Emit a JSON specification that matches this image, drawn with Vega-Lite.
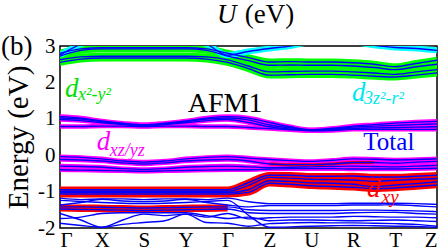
{
"$schema": "https://vega.github.io/schema/vega-lite/v6.json",
"width": 377, "height": 182,
"autosize": {"type": "none"},
"padding": {"left": 60, "top": 46, "right": 11, "bottom": 24},
"background": "white",
"config": {"view": {"stroke": "black", "strokeWidth": 1.5}, "font": "Liberation Serif"},
"data": {"values": [
{"b":"G1","k":0,"e":2.80},{"b":"G1","k":0.5,"e":2.92},{"b":"G1","k":1,"e":2.95},{"b":"G1","k":1.5,"e":2.95},{"b":"G1","k":2,"e":2.95},{"b":"G1","k":2.5,"e":2.95},{"b":"G1","k":3,"e":2.95},{"b":"G1","k":3.5,"e":2.92},{"b":"G1","k":4,"e":2.80},{"b":"G1","k":4.5,"e":2.68},{"b":"G1","k":5,"e":2.56},{"b":"G1","k":5.5,"e":2.57},{"b":"G1","k":6,"e":2.56},{"b":"G1","k":6.5,"e":2.56},{"b":"G1","k":7,"e":2.54},{"b":"G1","k":7.5,"e":2.50},{"b":"G1","k":8,"e":2.43},{"b":"G1","k":8.5,"e":2.52},{"b":"G1","k":9,"e":2.61},
{"b":"G2","k":0,"e":2.72},{"b":"G2","k":0.5,"e":2.88},{"b":"G2","k":1,"e":2.92},{"b":"G2","k":1.5,"e":2.92},{"b":"G2","k":2,"e":2.92},{"b":"G2","k":2.5,"e":2.92},{"b":"G2","k":3,"e":2.92},{"b":"G2","k":3.5,"e":2.88},{"b":"G2","k":4,"e":2.72},{"b":"G2","k":4.5,"e":2.60},{"b":"G2","k":5,"e":2.47},{"b":"G2","k":5.5,"e":2.48},{"b":"G2","k":6,"e":2.47},{"b":"G2","k":6.5,"e":2.47},{"b":"G2","k":7,"e":2.45},{"b":"G2","k":7.5,"e":2.41},{"b":"G2","k":8,"e":2.35},{"b":"G2","k":8.5,"e":2.43},{"b":"G2","k":9,"e":2.50},
{"b":"G3","k":0,"e":2.62},{"b":"G3","k":0.5,"e":2.70},{"b":"G3","k":1,"e":2.72},{"b":"G3","k":1.5,"e":2.72},{"b":"G3","k":2,"e":2.72},{"b":"G3","k":2.5,"e":2.72},{"b":"G3","k":3,"e":2.72},{"b":"G3","k":3.5,"e":2.70},{"b":"G3","k":4,"e":2.62},{"b":"G3","k":4.5,"e":2.45},{"b":"G3","k":5,"e":2.29},{"b":"G3","k":5.5,"e":2.30},{"b":"G3","k":6,"e":2.31},{"b":"G3","k":6.5,"e":2.31},{"b":"G3","k":7,"e":2.29},{"b":"G3","k":7.5,"e":2.26},{"b":"G3","k":8,"e":2.22},{"b":"G3","k":8.5,"e":2.29},{"b":"G3","k":9,"e":2.35},
{"b":"G4","k":0,"e":2.55},{"b":"G4","k":0.5,"e":2.64},{"b":"G4","k":1,"e":2.67},{"b":"G4","k":1.5,"e":2.67},{"b":"G4","k":2,"e":2.67},{"b":"G4","k":2.5,"e":2.67},{"b":"G4","k":3,"e":2.67},{"b":"G4","k":3.5,"e":2.64},{"b":"G4","k":4,"e":2.55},{"b":"G4","k":4.5,"e":2.38},{"b":"G4","k":5,"e":2.20},{"b":"G4","k":5.5,"e":2.21},{"b":"G4","k":6,"e":2.22},{"b":"G4","k":6.5,"e":2.22},{"b":"G4","k":7,"e":2.20},{"b":"G4","k":7.5,"e":2.17},{"b":"G4","k":8,"e":2.15},{"b":"G4","k":8.5,"e":2.20},{"b":"G4","k":9,"e":2.26},
{"b":"C1","k":0,"e":2.75},{"b":"C1","k":0.5,"e":3.05},{"b":"C1","k":1,"e":3.2},{"b":"C1","k":1.5,"e":3.2},{"b":"C1","k":2,"e":3.2},{"b":"C1","k":2.5,"e":3.2},{"b":"C1","k":3,"e":3.2},{"b":"C1","k":3.5,"e":3.05},{"b":"C1","k":4,"e":2.75},{"b":"C1","k":4.5,"e":2.85},{"b":"C1","k":5,"e":2.93},{"b":"C1","k":5.5,"e":3.0},{"b":"C1","k":6,"e":3.1},{"b":"C1","k":6.5,"e":3.1},{"b":"C1","k":7,"e":3.1},{"b":"C1","k":7.5,"e":3.02},{"b":"C1","k":8,"e":2.96},{"b":"C1","k":8.5,"e":2.93},{"b":"C1","k":9,"e":2.88},
{"b":"M1","k":0,"e":1.06},{"b":"M1","k":0.5,"e":1.02},{"b":"M1","k":1,"e":0.94},{"b":"M1","k":1.5,"e":0.88},{"b":"M1","k":2,"e":0.84},{"b":"M1","k":2.5,"e":0.88},{"b":"M1","k":3,"e":0.94},{"b":"M1","k":3.5,"e":1.02},{"b":"M1","k":4,"e":1.06},{"b":"M1","k":4.5,"e":1.02},{"b":"M1","k":5,"e":0.90},{"b":"M1","k":5.5,"e":0.78},{"b":"M1","k":6,"e":0.70},{"b":"M1","k":6.5,"e":0.74},{"b":"M1","k":7,"e":0.80},{"b":"M1","k":7.5,"e":0.84},{"b":"M1","k":8,"e":0.88},{"b":"M1","k":8.5,"e":0.91},{"b":"M1","k":9,"e":0.93},
{"b":"M2","k":0,"e":1.02},{"b":"M2","k":0.5,"e":0.99},{"b":"M2","k":1,"e":0.92},{"b":"M2","k":1.5,"e":0.86},{"b":"M2","k":2,"e":0.82},{"b":"M2","k":2.5,"e":0.86},{"b":"M2","k":3,"e":0.92},{"b":"M2","k":3.5,"e":0.99},{"b":"M2","k":4,"e":1.02},{"b":"M2","k":4.5,"e":0.97},{"b":"M2","k":5,"e":0.83},{"b":"M2","k":5.5,"e":0.75},{"b":"M2","k":6,"e":0.69},{"b":"M2","k":6.5,"e":0.72},{"b":"M2","k":7,"e":0.77},{"b":"M2","k":7.5,"e":0.80},{"b":"M2","k":8,"e":0.82},{"b":"M2","k":8.5,"e":0.84},{"b":"M2","k":9,"e":0.86},
{"b":"M3","k":0,"e":0.98},{"b":"M3","k":0.5,"e":0.95},{"b":"M3","k":1,"e":0.89},{"b":"M3","k":1.5,"e":0.84},{"b":"M3","k":2,"e":0.80},{"b":"M3","k":2.5,"e":0.84},{"b":"M3","k":3,"e":0.89},{"b":"M3","k":3.5,"e":0.95},{"b":"M3","k":4,"e":0.98},{"b":"M3","k":4.5,"e":0.90},{"b":"M3","k":5,"e":0.78},{"b":"M3","k":5.5,"e":0.72},{"b":"M3","k":6,"e":0.68},{"b":"M3","k":6.5,"e":0.70},{"b":"M3","k":7,"e":0.74},{"b":"M3","k":7.5,"e":0.75},{"b":"M3","k":8,"e":0.76},{"b":"M3","k":8.5,"e":0.77},{"b":"M3","k":9,"e":0.78},
{"b":"M4","k":0,"e":0.79},{"b":"M4","k":0.5,"e":0.79},{"b":"M4","k":1,"e":0.80},{"b":"M4","k":1.5,"e":0.80},{"b":"M4","k":2,"e":0.79},{"b":"M4","k":2.5,"e":0.80},{"b":"M4","k":3,"e":0.80},{"b":"M4","k":3.5,"e":0.79},{"b":"M4","k":4,"e":0.79},{"b":"M4","k":4.5,"e":0.76},{"b":"M4","k":5,"e":0.73},{"b":"M4","k":5.5,"e":0.70},{"b":"M4","k":6,"e":0.67},{"b":"M4","k":6.5,"e":0.68},{"b":"M4","k":7,"e":0.71},{"b":"M4","k":7.5,"e":0.71},{"b":"M4","k":8,"e":0.71},{"b":"M4","k":8.5,"e":0.71},{"b":"M4","k":9,"e":0.71},
{"b":"N1","k":0,"e":-0.04},{"b":"N1","k":0.5,"e":-0.06},{"b":"N1","k":1,"e":-0.10},{"b":"N1","k":1.5,"e":-0.16},{"b":"N1","k":2,"e":-0.19},{"b":"N1","k":2.5,"e":-0.16},{"b":"N1","k":3,"e":-0.10},{"b":"N1","k":3.5,"e":-0.06},{"b":"N1","k":4,"e":-0.04},{"b":"N1","k":4.5,"e":-0.08},{"b":"N1","k":5,"e":-0.12},{"b":"N1","k":5.5,"e":-0.15},{"b":"N1","k":6,"e":-0.17},{"b":"N1","k":6.5,"e":-0.14},{"b":"N1","k":7,"e":-0.10},{"b":"N1","k":7.5,"e":-0.11},{"b":"N1","k":8,"e":-0.13},{"b":"N1","k":8.5,"e":-0.12},{"b":"N1","k":9,"e":-0.10},
{"b":"N2","k":0,"e":-0.12},{"b":"N2","k":0.5,"e":-0.13},{"b":"N2","k":1,"e":-0.16},{"b":"N2","k":1.5,"e":-0.21},{"b":"N2","k":2,"e":-0.24},{"b":"N2","k":2.5,"e":-0.21},{"b":"N2","k":3,"e":-0.16},{"b":"N2","k":3.5,"e":-0.13},{"b":"N2","k":4,"e":-0.12},{"b":"N2","k":4.5,"e":-0.16},{"b":"N2","k":5,"e":-0.24},{"b":"N2","k":5.5,"e":-0.26},{"b":"N2","k":6,"e":-0.26},{"b":"N2","k":6.5,"e":-0.24},{"b":"N2","k":7,"e":-0.20},{"b":"N2","k":7.5,"e":-0.20},{"b":"N2","k":8,"e":-0.22},{"b":"N2","k":8.5,"e":-0.19},{"b":"N2","k":9,"e":-0.17},
{"b":"N3","k":0,"e":-0.30},{"b":"N3","k":0.5,"e":-0.31},{"b":"N3","k":1,"e":-0.33},{"b":"N3","k":1.5,"e":-0.37},{"b":"N3","k":2,"e":-0.39},{"b":"N3","k":2.5,"e":-0.37},{"b":"N3","k":3,"e":-0.33},{"b":"N3","k":3.5,"e":-0.31},{"b":"N3","k":4,"e":-0.30},{"b":"N3","k":4.5,"e":-0.32},{"b":"N3","k":5,"e":-0.34},{"b":"N3","k":5.5,"e":-0.33},{"b":"N3","k":6,"e":-0.32},{"b":"N3","k":6.5,"e":-0.31},{"b":"N3","k":7,"e":-0.30},{"b":"N3","k":7.5,"e":-0.31},{"b":"N3","k":8,"e":-0.32},{"b":"N3","k":8.5,"e":-0.30},{"b":"N3","k":9,"e":-0.28},
{"b":"N4","k":0,"e":-0.40},{"b":"N4","k":0.5,"e":-0.41},{"b":"N4","k":1,"e":-0.42},{"b":"N4","k":1.5,"e":-0.43},{"b":"N4","k":2,"e":-0.44},{"b":"N4","k":2.5,"e":-0.43},{"b":"N4","k":3,"e":-0.42},{"b":"N4","k":3.5,"e":-0.41},{"b":"N4","k":4,"e":-0.40},{"b":"N4","k":4.5,"e":-0.40},{"b":"N4","k":5,"e":-0.38},{"b":"N4","k":5.5,"e":-0.37},{"b":"N4","k":6,"e":-0.37},{"b":"N4","k":6.5,"e":-0.37},{"b":"N4","k":7,"e":-0.38},{"b":"N4","k":7.5,"e":-0.38},{"b":"N4","k":8,"e":-0.38},{"b":"N4","k":8.5,"e":-0.37},{"b":"N4","k":9,"e":-0.36},
{"b":"R1","k":0,"e":-0.95},{"b":"R1","k":0.5,"e":-0.95},{"b":"R1","k":1,"e":-0.95},{"b":"R1","k":1.5,"e":-0.95},{"b":"R1","k":2,"e":-0.95},{"b":"R1","k":2.5,"e":-0.95},{"b":"R1","k":3,"e":-0.95},{"b":"R1","k":3.5,"e":-0.95},{"b":"R1","k":4,"e":-0.95},{"b":"R1","k":4.5,"e":-0.75},{"b":"R1","k":5,"e":-0.55},{"b":"R1","k":5.5,"e":-0.55},{"b":"R1","k":6,"e":-0.58},{"b":"R1","k":6.5,"e":-0.58},{"b":"R1","k":7,"e":-0.57},{"b":"R1","k":7.5,"e":-0.60},{"b":"R1","k":8,"e":-0.60},{"b":"R1","k":8.5,"e":-0.58},{"b":"R1","k":9,"e":-0.55},
{"b":"R2","k":0,"e":-0.99},{"b":"R2","k":0.5,"e":-0.99},{"b":"R2","k":1,"e":-0.99},{"b":"R2","k":1.5,"e":-0.99},{"b":"R2","k":2,"e":-0.99},{"b":"R2","k":2.5,"e":-0.99},{"b":"R2","k":3,"e":-0.99},{"b":"R2","k":3.5,"e":-0.99},{"b":"R2","k":4,"e":-0.99},{"b":"R2","k":4.5,"e":-0.83},{"b":"R2","k":5,"e":-0.61},{"b":"R2","k":5.5,"e":-0.63},{"b":"R2","k":6,"e":-0.66},{"b":"R2","k":6.5,"e":-0.67},{"b":"R2","k":7,"e":-0.68},{"b":"R2","k":7.5,"e":-0.72},{"b":"R2","k":8,"e":-0.69},{"b":"R2","k":8.5,"e":-0.66},{"b":"R2","k":9,"e":-0.64},
{"b":"R3","k":0,"e":-1.03},{"b":"R3","k":0.5,"e":-1.03},{"b":"R3","k":1,"e":-1.03},{"b":"R3","k":1.5,"e":-1.03},{"b":"R3","k":2,"e":-1.03},{"b":"R3","k":2.5,"e":-1.03},{"b":"R3","k":3,"e":-1.03},{"b":"R3","k":3.5,"e":-1.03},{"b":"R3","k":4,"e":-1.03},{"b":"R3","k":4.5,"e":-0.95},{"b":"R3","k":5,"e":-0.70},{"b":"R3","k":5.5,"e":-0.72},{"b":"R3","k":6,"e":-0.76},{"b":"R3","k":6.5,"e":-0.77},{"b":"R3","k":7,"e":-0.80},{"b":"R3","k":7.5,"e":-0.86},{"b":"R3","k":8,"e":-0.82},{"b":"R3","k":8.5,"e":-0.78},{"b":"R3","k":9,"e":-0.73},
{"b":"R4","k":0,"e":-1.07},{"b":"R4","k":0.5,"e":-1.07},{"b":"R4","k":1,"e":-1.07},{"b":"R4","k":1.5,"e":-1.07},{"b":"R4","k":2,"e":-1.07},{"b":"R4","k":2.5,"e":-1.07},{"b":"R4","k":3,"e":-1.07},{"b":"R4","k":3.5,"e":-1.07},{"b":"R4","k":4,"e":-1.07},{"b":"R4","k":4.5,"e":-1.02},{"b":"R4","k":5,"e":-0.77},{"b":"R4","k":5.5,"e":-0.80},{"b":"R4","k":6,"e":-0.84},{"b":"R4","k":6.5,"e":-0.86},{"b":"R4","k":7,"e":-0.88},{"b":"R4","k":7.5,"e":-0.92},{"b":"R4","k":8,"e":-0.90},{"b":"R4","k":8.5,"e":-0.86},{"b":"R4","k":9,"e":-0.82},
{"b":"R5","k":0,"e":-1.42},{"b":"R5","k":0.5,"e":-1.42},{"b":"R5","k":1,"e":-1.43},{"b":"R5","k":1.5,"e":-1.44},{"b":"R5","k":2,"e":-1.45},{"b":"R5","k":2.5,"e":-1.44},{"b":"R5","k":3,"e":-1.43},{"b":"R5","k":3.5,"e":-1.42},{"b":"R5","k":4,"e":-1.42},{"b":"R5","k":4.5,"e":-1.50},{"b":"R5","k":5,"e":-1.52},{"b":"R5","k":5.5,"e":-1.52},{"b":"R5","k":6,"e":-1.52},{"b":"R5","k":6.5,"e":-1.52},{"b":"R5","k":7,"e":-1.51},{"b":"R5","k":7.5,"e":-1.51},{"b":"R5","k":8,"e":-1.52},{"b":"R5","k":8.5,"e":-1.53},{"b":"R5","k":9,"e":-1.55},
{"b":"R6","k":0,"e":-1.48},{"b":"R6","k":0.5,"e":-1.49},{"b":"R6","k":1,"e":-1.50},{"b":"R6","k":1.5,"e":-1.51},{"b":"R6","k":2,"e":-1.52},{"b":"R6","k":2.5,"e":-1.51},{"b":"R6","k":3,"e":-1.50},{"b":"R6","k":3.5,"e":-1.49},{"b":"R6","k":4,"e":-1.48},{"b":"R6","k":4.5,"e":-1.58},{"b":"R6","k":5,"e":-1.60},{"b":"R6","k":5.5,"e":-1.60},{"b":"R6","k":6,"e":-1.60},{"b":"R6","k":6.5,"e":-1.60},{"b":"R6","k":7,"e":-1.58},{"b":"R6","k":7.5,"e":-1.57},{"b":"R6","k":8,"e":-1.57},{"b":"R6","k":8.5,"e":-1.60},{"b":"R6","k":9,"e":-1.62},
{"b":"T1","k":0,"e":-1.18},{"b":"T1","k":0.5,"e":-1.22},{"b":"T1","k":1,"e":-1.20},{"b":"T1","k":1.5,"e":-1.20},{"b":"T1","k":2,"e":-1.22},{"b":"T1","k":2.5,"e":-1.20},{"b":"T1","k":3,"e":-1.20},{"b":"T1","k":3.5,"e":-1.22},{"b":"T1","k":4,"e":-1.18},{"b":"T1","k":4.5,"e":-1.28},{"b":"T1","k":5,"e":-1.33},{"b":"T1","k":5.5,"e":-1.33},{"b":"T1","k":6,"e":-1.33},{"b":"T1","k":6.5,"e":-1.33},{"b":"T1","k":7,"e":-1.32},{"b":"T1","k":7.5,"e":-1.32},{"b":"T1","k":8,"e":-1.32},{"b":"T1","k":8.5,"e":-1.33},{"b":"T1","k":9,"e":-1.35},
{"b":"T2","k":0,"e":-1.37},{"b":"T2","k":0.5,"e":-1.30},{"b":"T2","k":1,"e":-1.21},{"b":"T2","k":1.5,"e":-1.26},{"b":"T2","k":2,"e":-1.28},{"b":"T2","k":2.5,"e":-1.26},{"b":"T2","k":3,"e":-1.21},{"b":"T2","k":3.5,"e":-1.30},{"b":"T2","k":4,"e":-1.37},{"b":"T2","k":4.5,"e":-1.42},{"b":"T2","k":5,"e":-1.38},{"b":"T2","k":5.5,"e":-1.38},{"b":"T2","k":6,"e":-1.38},{"b":"T2","k":6.5,"e":-1.38},{"b":"T2","k":7,"e":-1.37},{"b":"T2","k":7.5,"e":-1.37},{"b":"T2","k":8,"e":-1.36},{"b":"T2","k":8.5,"e":-1.39},{"b":"T2","k":9,"e":-1.42},
{"b":"T3","k":0,"e":-1.60},{"b":"T3","k":0.5,"e":-1.78},{"b":"T3","k":1,"e":-1.98},{"b":"T3","k":1.5,"e":-1.78},{"b":"T3","k":2,"e":-1.62},{"b":"T3","k":2.5,"e":-1.66},{"b":"T3","k":3,"e":-1.62},{"b":"T3","k":3.5,"e":-1.70},{"b":"T3","k":4,"e":-1.60},{"b":"T3","k":4.5,"e":-1.75},{"b":"T3","k":5,"e":-1.72},{"b":"T3","k":5.5,"e":-1.70},{"b":"T3","k":6,"e":-1.70},{"b":"T3","k":6.5,"e":-1.70},{"b":"T3","k":7,"e":-1.68},{"b":"T3","k":7.5,"e":-1.69},{"b":"T3","k":8,"e":-1.70},{"b":"T3","k":8.5,"e":-1.70},{"b":"T3","k":9,"e":-1.72},
{"b":"T4","k":0,"e":-1.87},{"b":"T4","k":0.5,"e":-1.93},{"b":"T4","k":1,"e":-1.98},{"b":"T4","k":1.5,"e":-1.90},{"b":"T4","k":2,"e":-1.85},{"b":"T4","k":2.5,"e":-1.80},{"b":"T4","k":3,"e":-1.62},{"b":"T4","k":3.5,"e":-1.85},{"b":"T4","k":4,"e":-1.87},{"b":"T4","k":4.5,"e":-1.95},{"b":"T4","k":5,"e":-1.88},{"b":"T4","k":5.5,"e":-1.86},{"b":"T4","k":6,"e":-1.85},{"b":"T4","k":6.5,"e":-1.86},{"b":"T4","k":7,"e":-1.86},{"b":"T4","k":7.5,"e":-1.87},{"b":"T4","k":8,"e":-1.88},{"b":"T4","k":8.5,"e":-1.90},{"b":"T4","k":9,"e":-1.95},
{"b":"T5","k":0,"e":-1.74},{"b":"T5","k":0.5,"e":-1.70},{"b":"T5","k":1,"e":-1.60},{"b":"T5","k":1.5,"e":-1.58},{"b":"T5","k":2,"e":-1.58},{"b":"T5","k":2.5,"e":-1.58},{"b":"T5","k":3,"e":-1.58},{"b":"T5","k":3.5,"e":-1.66},{"b":"T5","k":4,"e":-1.74},{"b":"T5","k":4.5,"e":-1.70},{"b":"T5","k":5,"e":-1.80},{"b":"T5","k":5.5,"e":-1.78},{"b":"T5","k":6,"e":-1.78},{"b":"T5","k":6.5,"e":-1.79},{"b":"T5","k":7,"e":-1.80},{"b":"T5","k":7.5,"e":-1.79},{"b":"T5","k":8,"e":-1.78},{"b":"T5","k":8.5,"e":-1.80},{"b":"T5","k":9,"e":-1.82},
{"b":"T6","k":0,"e":-1.24},{"b":"T6","k":0.5,"e":-1.27},{"b":"T6","k":1,"e":-1.30},{"b":"T6","k":1.5,"e":-1.32},{"b":"T6","k":2,"e":-1.33},{"b":"T6","k":2.5,"e":-1.32},{"b":"T6","k":3,"e":-1.30},{"b":"T6","k":3.5,"e":-1.27},{"b":"T6","k":4,"e":-1.24},{"b":"T6","k":4.5,"e":-1.65},{"b":"T6","k":5,"e":-1.98},{"b":"T6","k":5.5,"e":-1.97},{"b":"T6","k":6,"e":-1.95},{"b":"T6","k":6.5,"e":-1.94},{"b":"T6","k":7,"e":-1.93},{"b":"T6","k":7.5,"e":-1.94},{"b":"T6","k":8,"e":-1.95},{"b":"T6","k":8.5,"e":-1.96},{"b":"T6","k":9,"e":-1.98}
]},
"encoding": {
 "x": {"field": "k", "type": "quantitative", "scale": {"domain": [0, 9], "nice": false, "zero": false},
  "axis": {"values": [0,1,2,3,4,5,6,7,8,9], "labelExpr": "['Γ','X','S','Y','Γ','Z','U','R','T','Z'][datum.value]", "title": null, "ticks": false, "domain": false, "grid": false, "labelFont": "Liberation Serif", "labelFontSize": 21, "labelColor": "black", "labelPadding": 1, "labelOverlap": false}},
 "y": {"field": "e", "type": "quantitative", "scale": {"domain": [-2, 3], "nice": false, "zero": false},
  "axis": {"values": [-2,-1,0,1,2,3], "labelExpr": "'' + datum.value", "title": "Energy (eV)", "ticks": false, "domain": false, "grid": false, "labelFont": "Liberation Serif", "labelFontSize": 21, "labelColor": "black", "labelPadding": 5, "titleFont": "Liberation Serif", "titleFontSize": 29, "titleFontWeight": "normal", "titleColor": "black", "titlePadding": 4}}
},
"layer": [
 {"transform": [{"filter": {"field": "b", "oneOf": ["G1","G2","G3","G4"]}}],
  "mark": {"type": "line", "color": "#00ff00", "strokeWidth": 7, "interpolate": "monotone", "clip": true},
  "encoding": {"detail": {"field": "b"}}},
 {"transform": [{"filter": {"field": "b", "oneOf": ["C1"]}}],
  "mark": {"type": "line", "color": "#00ffff", "strokeWidth": 6, "interpolate": "monotone", "clip": true},
  "encoding": {"detail": {"field": "b"}}},
 {"transform": [{"filter": {"field": "b", "oneOf": ["M1","M2","M3","M4","N1","N2","N3","N4"]}}],
  "mark": {"type": "line", "color": "#ff00ff", "strokeWidth": 4.5, "interpolate": "monotone", "clip": true},
  "encoding": {"detail": {"field": "b"}}},
 {"transform": [{"filter": {"field": "b", "oneOf": ["R1","R2","R3","R4"]}}],
  "mark": {"type": "line", "color": "#ff0000", "strokeWidth": 6.5, "interpolate": "monotone", "clip": true},
  "encoding": {"detail": {"field": "b"}}},
 {"transform": [{"filter": {"field": "b", "oneOf": ["R5","R6"]}}, {"filter": {"field": "k", "lte": 4.2}}],
  "mark": {"type": "line", "color": "#ff0000", "strokeWidth": 5, "interpolate": "monotone", "clip": true},
  "encoding": {"detail": {"field": "b"}}},
 {"transform": [{"filter": {"field": "b", "oneOf": ["N2"]}}, {"filter": {"field": "k", "range": [5, 7.5]}}],
  "mark": {"type": "line", "color": "#ff0000", "strokeWidth": 3, "interpolate": "monotone", "clip": true},
  "encoding": {"detail": {"field": "b"}}},
 {"mark": {"type": "line", "color": "#0000ff", "strokeWidth": 1.4, "interpolate": "monotone", "clip": true},
  "encoding": {"detail": {"field": "b"}}},
 {"data": {"values": [{"k":1},{"k":2},{"k":3},{"k":4},{"k":5},{"k":6},{"k":7},{"k":8}]},
  "mark": {"type": "rule", "color": "black", "strokeWidth": 1.3, "strokeDash": [5, 4]},
  "encoding": {"y": {"datum": -2}, "y2": {"datum": 3}}},
 {"data": {"values": [{"k": 0}]},
  "mark": {"type": "rule", "color": "black", "strokeWidth": 1.3, "strokeDash": [5, 4]},
  "encoding": {"x2": {"datum": 9}, "y": {"datum": 0}}},
 {"data": {"values": [{"t": "U", "k": 3.75, "e": 3.626}]},
  "mark": {"type": "text", "font": "Liberation Serif", "fontStyle": "italic", "fontSize": 27, "color": "black", "align": "left", "baseline": "alphabetic"},
  "encoding": {"text": {"field": "t"}}},
 {"data": {"values": [{"t": "(eV)", "k": 4.41, "e": 3.626}, {"t": "(b)", "k": -1.41, "e": 2.75}]},
  "mark": {"type": "text", "font": "Liberation Serif", "fontSize": 27, "color": "black", "align": "left", "baseline": "alphabetic"},
  "encoding": {"text": {"field": "t"}}},
 {"data": {"values": [{"t": "AFM1", "k": 3.94, "e": 1.18}]},
  "mark": {"type": "text", "font": "Liberation Serif", "fontSize": 28, "color": "black", "align": "center", "baseline": "alphabetic"},
  "encoding": {"text": {"field": "t"}}},
 {"data": {"values": [{"t": "Total", "k": 7.85, "e": 0.14}]},
  "mark": {"type": "text", "font": "Liberation Serif", "fontSize": 25, "color": "#0000ff", "align": "center", "baseline": "alphabetic"},
  "encoding": {"text": {"field": "t"}}},
 {"data": {"values": [{"t": "d", "k": 0.12, "e": 1.59}]},
  "mark": {"type": "text", "font": "Liberation Serif", "fontStyle": "italic", "fontSize": 27, "color": "#00e000", "align": "left", "baseline": "alphabetic"},
  "encoding": {"text": {"field": "t"}}},
 {"data": {"values": [{"t": "x²-y²", "k": 0.43, "e": 1.51}]},
  "mark": {"type": "text", "font": "Liberation Serif", "fontStyle": "italic", "fontSize": 18, "color": "#00e000", "align": "left", "baseline": "alphabetic"},
  "encoding": {"text": {"field": "t"}}},
 {"data": {"values": [{"t": "d", "k": 6.97, "e": 1.48}]},
  "mark": {"type": "text", "font": "Liberation Serif", "fontStyle": "italic", "fontSize": 27, "color": "#00e8ee", "align": "left", "baseline": "alphabetic"},
  "encoding": {"text": {"field": "t"}}},
 {"data": {"values": [{"t": "3z²-r²", "k": 7.26, "e": 1.40}]},
  "mark": {"type": "text", "font": "Liberation Serif", "fontStyle": "italic", "fontSize": 18, "color": "#00e8ee", "align": "left", "baseline": "alphabetic"},
  "encoding": {"text": {"field": "t"}}},
 {"data": {"values": [{"t": "d", "k": 0.88, "e": 0.14}]},
  "mark": {"type": "text", "font": "Liberation Serif", "fontStyle": "italic", "fontSize": 27, "color": "#ff00ff", "align": "left", "baseline": "alphabetic"},
  "encoding": {"text": {"field": "t"}}},
 {"data": {"values": [{"t": "xz/yz", "k": 1.19, "e": -0.03}]},
  "mark": {"type": "text", "font": "Liberation Serif", "fontStyle": "italic", "fontSize": 18, "color": "#ff00ff", "align": "left", "baseline": "alphabetic"},
  "encoding": {"text": {"field": "t"}}},
 {"data": {"values": [{"t": "d", "k": 7.33, "e": -1.15}]},
  "mark": {"type": "text", "font": "Liberation Serif", "fontStyle": "italic", "fontSize": 27, "color": "#ff0000", "align": "left", "baseline": "alphabetic"},
  "encoding": {"text": {"field": "t"}}},
 {"data": {"values": [{"t": "xy", "k": 7.68, "e": -1.32}]},
  "mark": {"type": "text", "font": "Liberation Serif", "fontStyle": "italic", "fontSize": 19, "color": "#ff0000", "align": "left", "baseline": "alphabetic"},
  "encoding": {"text": {"field": "t"}}}
]
}
